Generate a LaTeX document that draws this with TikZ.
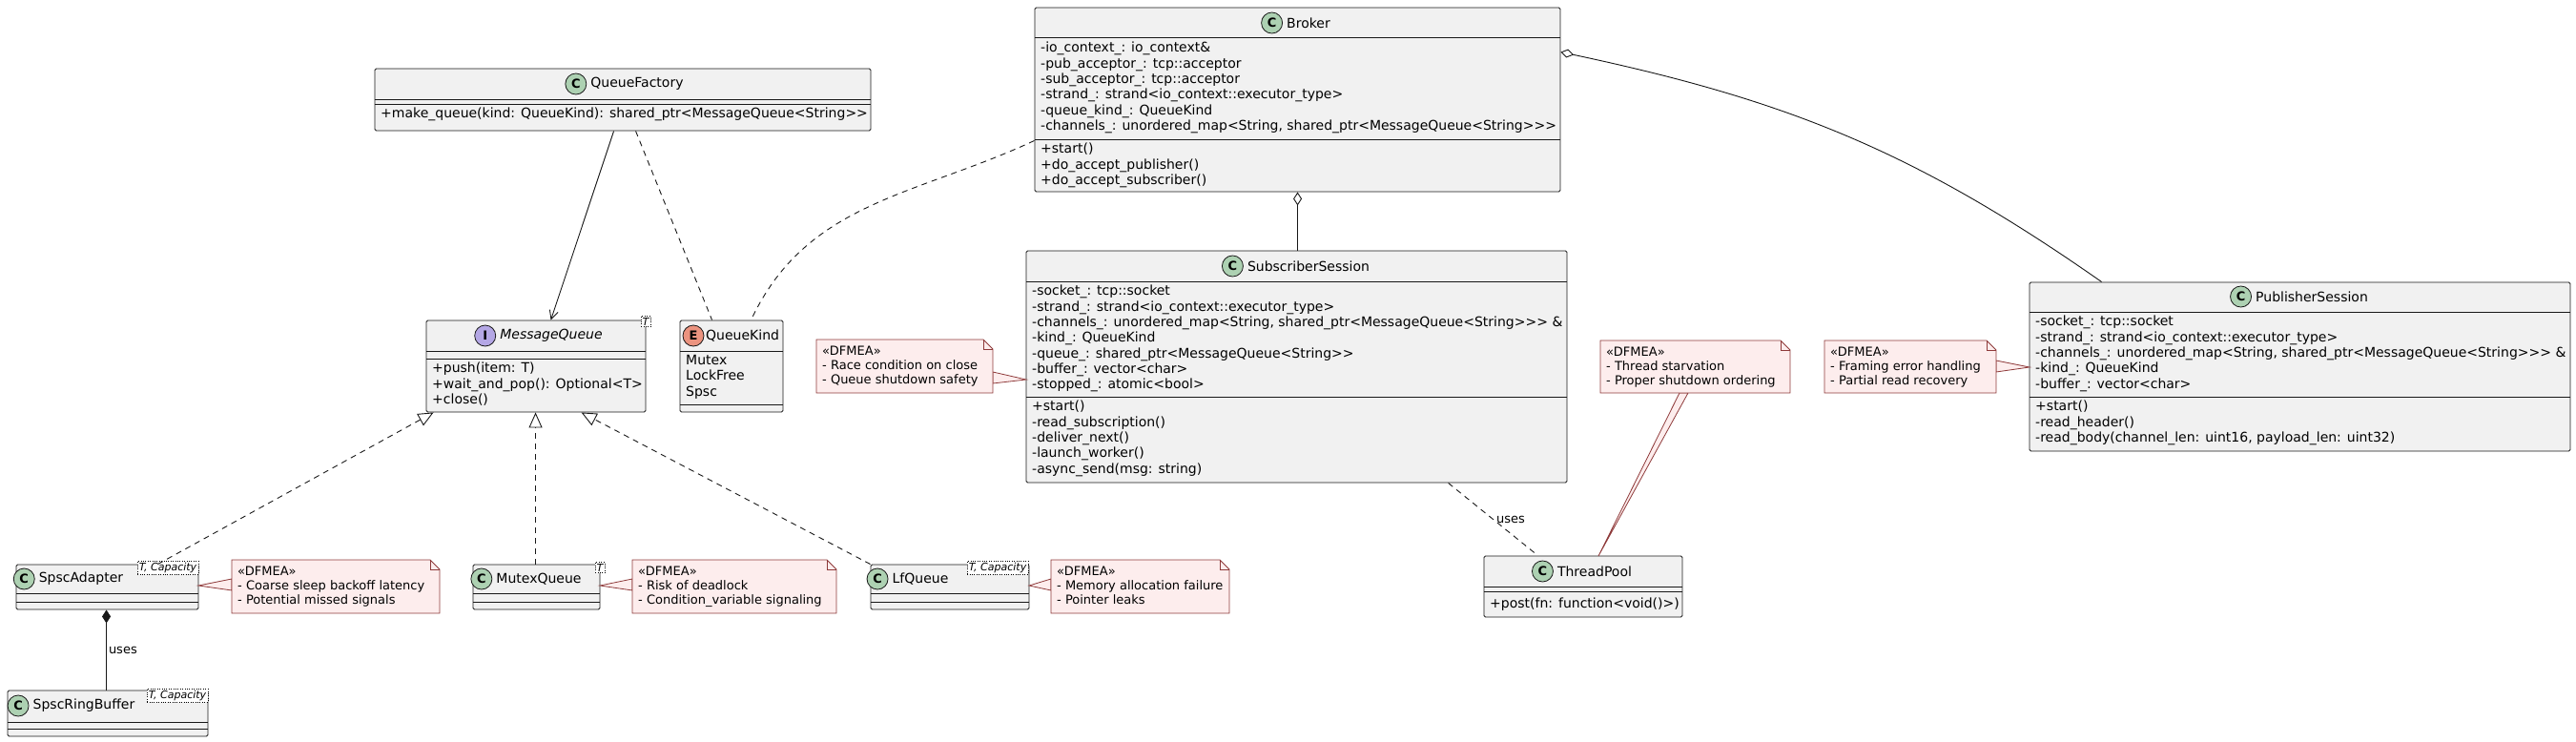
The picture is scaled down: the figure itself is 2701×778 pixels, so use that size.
\documentclass[tikz,border=0pt]{standalone}
\usepackage{fontspec}
\setmainfont{DejaVu Sans}
\usetikzlibrary{arrows.meta,calc,shapes.geometric}
\definecolor{clsfill}{HTML}{F1F1F1}
\definecolor{clsline}{HTML}{181818}
\definecolor{notefill}{HTML}{FDEDED}
\definecolor{noteline}{HTML}{8E3A3A}
\definecolor{cgreen}{HTML}{ADD1B2}
\definecolor{ipurple}{HTML}{B4A7E5}
\definecolor{eorange}{HTML}{EB937F}
\tikzset{
 cls/.style={draw=clsline,fill=clsfill,rounded corners=1.5pt,line width=0.9pt,inner sep=0},
 sepl/.style={draw=clsline,line width=0.9pt},
 ttlf/.style={font=\fontsize{14}{16}\selectfont,inner sep=0},
 icon/.style={circle,draw=clsline,line width=0.8pt,minimum size=22pt,inner sep=0,font=\fontsize{13}{13}\selectfont\bfseries},
 memf/.style={anchor=north west,align=left,inner sep=0,font=\fontsize{14}{16.3}\selectfont},
 tmpl/.style={draw=black,dotted,fill=white,inner sep=1.5pt,font=\fontsize{11}{12}\selectfont\itshape},
 note/.style={draw=noteline,fill=notefill,line width=0.8pt},
 notef/.style={anchor=north west,align=left,inner sep=0,font=\fontsize{13}{15}\selectfont},
 conn/.style={draw=clsline,line width=0.9pt},
 real/.style={conn,dashed,dash pattern=on 6pt off 5pt,-{Triangle[open,length=16pt,width=14pt,fill=white]}},
}
\newcommand\clsbox[5]{\node[cls,minimum width={(#4-#2)*1pt},minimum height={(#5-#3)*1pt}] (#1) at ({(#2+#4)/2},{(#3+#5)/2}) {};}
\newcommand\hsep[3]{\draw[sepl] (#1,#3) -- (#2,#3);}
\newcommand\ttl[6]{\node[ttlf] (#1) at (#2,#3) {#6}; \node[icon,fill=#5,anchor=east] (#1i) at ([xshift=-4pt]#1.west) {#4};}
\newcommand\notebox[6]{% name x1 y1 x2 y2 text
 \path[note] (#2,#3) -- (#4-10,#3) -- (#4,#3+10) -- (#4,#5) -- (#2,#5) -- cycle;
 \draw[noteline,line width=0.8pt] (#4-10,#3) -- (#4-10,#3+10) -- (#4,#3+10);
 \node[notef] (#1) at (#2+6,#3+7) {#6};}
\newcommand\notewedge[6]{\path[note] (#1,#2) -- (#5,#6) -- (#3,#4) -- cycle;}
\begin{document}
\begin{tikzpicture}[x=1pt,y=-1pt]
\useasboundingbox (0,0) rectangle (2701,778);

% QueueFactory
\clsbox{qf}{393}{72}{913}{137}
\hsep{393}{913}{104}\hsep{393}{913}{109}
\ttl{qft}{668}{88}{C}{cgreen}{QueueFactory}
\node[memf] (qfm) at (399,113) {+make\_queue(kind: QueueKind): shared\_ptr<MessageQueue<String>{}>};

% MessageQueue
\clsbox{mq}{447}{336}{677}{432}
\hsep{447}{677}{368}\hsep{447}{677}{376}
\ttl{mqt}{578}{352}{I}{ipurple}{\itshape MessageQueue}
\node[memf] (mqm) at (453,380) {+push(item: T)\\+wait\_and\_pop(): Optional<T>\\+close()};
\node[tmpl] (mqtp) at (677,337) {T};

% QueueKind
\clsbox{qk}{713}{336}{821}{432}
\hsep{713}{821}{368}\hsep{713}{821}{424}
\node[icon,fill=eorange] (qki) at (727,352) {E};
\node[ttlf,anchor=west] (qkt) at (740,352) {QueueKind};
\node[memf] (qkm) at (719,372) {Mutex\\LockFree\\Spsc};

% Broker
\clsbox{br}{1085}{8}{1636}{201}
\hsep{1085}{1636}{39}\hsep{1085}{1636}{146}
\ttl{brt}{1372}{24}{C}{cgreen}{Broker}
\node[memf] (bra) at (1091,44) {-io\_context\_: io\_context\&\\-pub\_acceptor\_: tcp::acceptor\\-sub\_acceptor\_: tcp::acceptor\\-strand\_: strand<io\_context::executor\_type>\\-queue\_kind\_: QueueKind\\-channels\_: unordered\_map<String, shared\_ptr<MessageQueue<String>{}>{}>};
\node[memf] (brm) at (1091,150) {+start()\\+do\_accept\_publisher()\\+do\_accept\_subscriber()};

% SubscriberSession
\clsbox{ss}{1076}{263}{1643}{506}
\hsep{1076}{1643}{295}\hsep{1076}{1643}{416}
\ttl{sst}{1372}{279}{C}{cgreen}{SubscriberSession}
\node[memf] (ssa) at (1082,299) {-socket\_: tcp::socket\\-strand\_: strand<io\_context::executor\_type>\\-channels\_: unordered\_map<String, shared\_ptr<MessageQueue<String>{}>{}> \&\\-kind\_: QueueKind\\-queue\_: shared\_ptr<MessageQueue<String>{}>\\-buffer\_: vector<char>\\-stopped\_: atomic<bool>};
\node[memf] (ssm) at (1082,420) {+start()\\-read\_subscription()\\-deliver\_next()\\-launch\_worker()\\-async\_send(msg: string)};

% PublisherSession
\clsbox{ps}{2128}{296}{2695}{473}
\hsep{2128}{2695}{327}\hsep{2128}{2695}{416}
\ttl{pst}{2424}{311}{C}{cgreen}{PublisherSession}
\node[memf] (psa) at (2134,331) {-socket\_: tcp::socket\\-strand\_: strand<io\_context::executor\_type>\\-channels\_: unordered\_map<String, shared\_ptr<MessageQueue<String>{}>{}> \&\\-kind\_: QueueKind\\-buffer\_: vector<char>};
\node[memf] (psm) at (2134,420) {+start()\\-read\_header()\\-read\_body(channel\_len: uint16, payload\_len: uint32)};

% ThreadPool
\clsbox{tp}{1556}{583}{1764}{647}
\hsep{1556}{1764}{615}\hsep{1556}{1764}{620}
\ttl{tpt}{1672}{599}{C}{cgreen}{ThreadPool}
\node[memf] (tpm) at (1562,627) {+post(fn: function<void()>)};

% SpscAdapter
\clsbox{sa}{17}{592}{208}{639}
\hsep{17}{208}{622}\hsep{17}{208}{631}
\ttl{sat}{85}{607}{C}{cgreen}{SpscAdapter}
\node[tmpl] (satp) at (176,595) {T, Capacity};

% MutexQueue
\clsbox{mx}{496}{592}{629}{639}
\hsep{496}{629}{622}\hsep{496}{629}{631}
\ttl{mxt}{565}{607}{C}{cgreen}{MutexQueue}
\node[tmpl] (mxtp) at (629,595) {T};

% LfQueue
\clsbox{lf}{913}{592}{1079}{639}
\hsep{913}{1079}{622}\hsep{913}{1079}{631}
\ttl{lft}{965}{607}{C}{cgreen}{LfQueue}
\node[tmpl] (lftp) at (1046,595) {T, Capacity};

% SpscRingBuffer
\clsbox{rb}{8}{724}{218}{772}
\hsep{8}{218}{757}\hsep{8}{218}{764}
\ttl{rbt}{88}{740}{C}{cgreen}{SpscRingBuffer}
\node[tmpl] (rbtp) at (186,729) {T, Capacity};

% Notes
\notewedge{243}{607}{243}{619}{208}{614}
\notebox{n1}{243}{587}{461}{643}{«DFMEA»\\- Coarse sleep backoff latency\\- Potential missed signals}
\notewedge{663}{607}{663}{619}{629}{614}
\notebox{n2}{663}{587}{877}{643}{«DFMEA»\\- Risk of deadlock\\- Condition\_variable signaling}
\notewedge{1102}{607}{1102}{619}{1079}{614}
\notebox{n3}{1102}{587}{1289}{643}{«DFMEA»\\- Memory allocation failure\\- Pointer leaks}
\notewedge{1041}{390}{1041}{402}{1076}{398}
\notebox{n4}{856}{356}{1041}{412}{«DFMEA»\\- Race condition on close\\- Queue shutdown safety}
\notewedge{2093}{378}{2093}{390}{2128}{385}
\notebox{n5}{1913}{357}{2093}{412}{«DFMEA»\\- Framing error handling\\- Partial read recovery}
\notewedge{1761}{412}{1770}{412}{1676}{583}
\notebox{n6}{1678}{357}{1877}{412}{«DFMEA»\\- Thread starvation\\- Proper shutdown ordering}

% Connectors
\draw[conn,-{Straight Barb[length=9pt,width=9pt]}] ([xshift=251pt]qf.south west) -- ([xshift=131pt]mq.north west);
\draw[conn,dashed,dash pattern=on 6pt off 5pt] ([xshift=274pt]qf.south west) -- ([xshift=34pt]qk.north west);
\draw[conn,dashed,dash pattern=on 6pt off 5pt] ([yshift=54pt]br.south west) to[out=205,in=65] ([xshift=75pt]qk.north west);
\draw[conn,{Diamond[open,fill=white,length=14pt,width=9pt]}-] ([xshift=276pt]br.south west) -- ([xshift=285pt]ss.north west);
\draw[conn,{Diamond[open,fill=white,length=14pt,width=9pt]}-] ([yshift=-47pt]br.north east) to[out=-12,in=145] ([xshift=76pt]ps.north west);
\draw[conn,dashed,dash pattern=on 6pt off 5pt] ([xshift=443pt]ss.south west) -- node[right,font=\fontsize{13}{15}\selectfont,inner sep=3pt] (usl1) {uses} ([xshift=57pt]tp.north west);
\draw[real] ([xshift=-43pt]sa.north east) -- ([xshift=8pt]mq.south west);
\draw[real] ([xshift=66pt]mx.north west) -- ([xshift=115pt]mq.south west);
\draw[real] (lf.north west) -- ([xshift=163pt]mq.south west);
\draw[conn,{Diamond[fill=clsline,length=14pt,width=9pt]}-] ([xshift=95pt]sa.south west) -- node[right,font=\fontsize{13}{15}\selectfont,inner sep=2pt] (usl2) {uses} ([xshift=104pt]rb.north west);
\end{tikzpicture}
\end{document}
